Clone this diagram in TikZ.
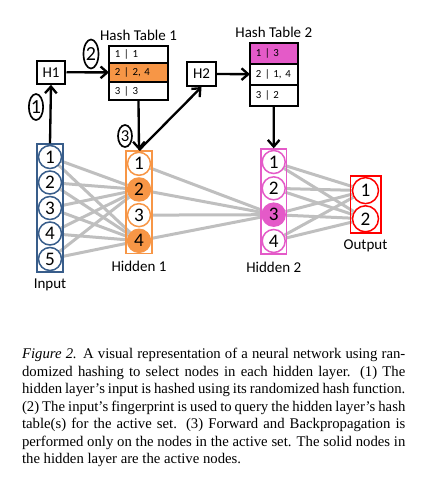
\documentclass[tikz,border=0pt]{standalone}
\usepackage{fontspec}
\setmainfont{Liberation Serif}
\newfontfamily\diagfont{Carlito}
\usetikzlibrary{matrix,positioning,shapes.geometric,arrows.meta,backgrounds}
\definecolor{inblue}{RGB}{56,93,138}
\definecolor{hidorange}{RGB}{247,150,70}
\definecolor{hidpink}{RGB}{228,90,200}
\definecolor{wgray}{RGB}{191,191,191}
\tikzstyle{neuron} = [circle, draw, fill=white, minimum size=13.8pt, inner sep=0pt, line width=0.9pt, font=\diagfont\fontsize{11.5}{11.5}\selectfont]
\tikzstyle{layer} = [matrix of nodes, ampersand replacement=\&, line width=0.9pt, inner sep=0.4pt]
\tikzstyle{hashfn} = [rectangle, draw, line width=1.2pt, minimum width=17.4pt, minimum height=13.8pt, inner sep=0pt, font=\diagfont\fontsize{9}{9}\selectfont]
\tikzstyle{bucket} = [rectangle, draw, line width=1.2pt, outer sep=0pt, inner xsep=3.5pt, inner ysep=0pt, align=left, font=\diagfont\fontsize{6.5}{6.5}\selectfont]
\tikzstyle{stepno} = [ellipse, draw, line width=1pt, inner sep=0pt, font=\diagfont\fontsize{12}{12}\selectfont]
\tikzstyle{flow} = [-{Straight Barb[length=4pt,width=7pt]}, line width=1.4pt]
\tikzstyle{weight} = [draw=wgray, line width=1.8pt]
\tikzstyle{caption} = [font=\diagfont\fontsize{9}{9}\selectfont, inner sep=0pt]

\begin{document}
\begin{tikzpicture}[x=0.6pt, y=-0.6pt]
\useasboundingbox (0,0) rectangle (433,489);
% the four layers
\matrix (inp) at (50,208) [layer, draw=inblue, nodes={neuron, draw=inblue}, row sep=0.6pt] {
	1 \\ 2 \\ 3 \\ 4 \\ 5 \\
};
\matrix (hA) at (139,202.3) [layer, draw=hidorange, nodes={neuron, draw=hidorange}, row sep=0.7pt] {
	1 \\ |[fill=hidorange]| 2 \\ 3 \\ |[fill=hidorange]| 4 \\
};
\matrix (hB) at (273.7,201.5) [layer, draw=hidpink, nodes={neuron, draw=hidpink}, row sep=1.1pt] {
	1 \\ 2 \\ |[fill=hidpink]| 3 \\ 4 \\
};
\matrix (out) at (365.5,204.7) [layer, draw=red, nodes={neuron, draw=red, minimum size=15.6pt}, row sep=0.4pt, inner xsep=0.9pt] {
	1 \\ 2 \\
};
\node [caption, below=3.5pt of inp] (inplbl) {Input};
\node [caption, below=4pt of hA] (hAlbl) {Hidden 1};
\node [caption, below=4pt of hB] (hBlbl) {Hidden 2};
\node [caption, below=3pt of out] (outlbl) {Output};

% weights of the active nodes
\begin{scope}[on background layer]
	\foreach \i in {1,...,5}
		\foreach \j in {2,4}
			\draw [weight] (inp-\i-1) -- (hA-\j-1);
	\foreach \i in {1,...,4}
		\draw [weight] (hA-\i-1) -- (hB-3-1);
	\foreach \i in {1,...,4}
		\foreach \j in {1,2}
			\draw [weight] (hB-\i-1) -- (out-\j-1);
\end{scope}

% hash functions and tables
\node [hashfn] (hfA) at (51,72.3) {H1};
\node [hashfn, minimum height=14.4pt] (hfB) at (201.5,74) {H2};

\node [bucket, minimum height=10.4pt, text width=28.4pt] (tA1) at (138.5,54.2) {1 | 1};
\node [bucket, minimum height=11.4pt, text width=28.4pt, fill=hidorange, below=0pt of tA1] (tA2) {2 | 2, 4};
\node [bucket, minimum height=11pt, text width=28.4pt, below=0pt of tA2] (tA3) {3 | 3};
\node [caption, above=3pt of tA1] (tAlbl) {Hash Table 1};

\node [bucket, minimum height=12.6pt, text width=21.6pt, fill=hidpink] (tB1) at (273.8,53.2) {1 | 3};
\node [bucket, minimum height=12.6pt, text width=21.6pt, below=0pt of tB1] (tB2) {2 | 1, 4};
\node [bucket, minimum height=12.6pt, text width=21.6pt, below=0pt of tB2] (tB3) {3 | 2};
\node [caption, above=3pt of tB1] (tBlbl) {Hash Table 2};

% steps
\draw [flow] (inp.north) -- (hfA.south);
\draw [flow] (hfA.east) -- (tA2.west);
\draw [flow] (tA3.south) -- (hA.north);
\draw [flow] (hA.north) -- (hfB.south);
\draw [flow] (hfB.east) -- (tB2.west);
\draw [flow] (tB3.south) -- (hB.north);

\node [stepno, minimum width=8.4pt, minimum height=15.6pt] (s1) at (36,107) {1};
\node [stepno, minimum width=9pt, minimum height=17.4pt] (s2) at (91,54) {2};
\node [stepno, minimum width=8.4pt, minimum height=13.2pt, font=\diagfont\fontsize{10}{10}\selectfont] (s3) at (125,136) {3};

% caption
\node [anchor=north west, inner sep=0pt, text width=230pt, align=justify, font=\fontsize{8.85}{10.5}\selectfont] (figcap) at (21.7,348) {%
\textit{Figure 2.} A visual representation of a neural network using ran-\linebreak
domized hashing to select nodes in each hidden layer.  (1) The\linebreak
hidden layer's input is hashed using its randomized hash function.\linebreak
(2) The input's fingerprint is used to query the hidden layer's hash\linebreak
table(s) for the active set.  (3) Forward and Backpropagation is\linebreak
performed only on the nodes in the active set. The solid nodes in\linebreak
the hidden layer are the active nodes.};
\end{tikzpicture}
\end{document}
